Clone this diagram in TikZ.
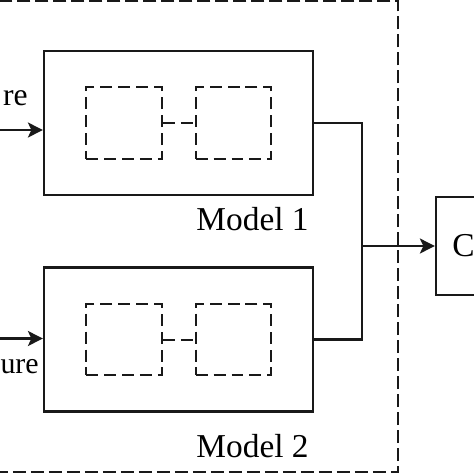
\documentclass[tikz,border=0pt]{standalone}
\usepackage{fontspec}
\setmainfont{Liberation Serif}
\usetikzlibrary{arrows.meta,positioning}
\tikzset{>={Stealth[length=3mm,width=3mm,inset=0.7mm]}}
\tikzset{
  modelbox/.style={draw=black!90,line width=0.045cm,minimum width=5.38cm,minimum height=2.88cm,inner sep=0pt},
  subbox/.style={draw=black!90,line width=0.04cm,dash pattern=on 0.24cm off 0.12cm,minimum width=1.52cm,minimum height=1.44cm,inner sep=0pt},
  wire/.style={draw=black!90,line width=0.045cm},
  lbl/.style={font=\fontsize{19}{21}\selectfont,inner sep=0pt}
}

\begin{document}
\begin{tikzpicture}[x=0.02cm,y=-0.02cm]
\useasboundingbox (0,0) rectangle (474,474);
\clip (0,0) rectangle (474,474);
\def\xmod {178.5} % x-center of the model boxes
\def\ymodA {123}  % y-center of model 1
\def\ymodB {339.5}% y-center of model 2
\def\xjoin {362}  % x of the joining wire
% outer dashed frame:
 \draw[draw=black!90,line width=0.045cm,dash pattern=on 0.26cm off 0.1cm] (-20,1) rectangle (398,472);
% models:
 \node[modelbox] (modA) at (\xmod,\ymodA) {};
 \node[modelbox] (modB) at (\xmod,\ymodB) {};
 \node[subbox] (subAl) at (124,\ymodA) {};
 \node[subbox] (subAr) at (233.5,\ymodA) {};
 \node[subbox] (subBl) at (124,\ymodB) {};
 \node[subbox] (subBr) at (233.5,\ymodB) {};
 \draw[wire,line width=0.04cm,dash pattern=on 0.24cm off 0.12cm] (subAl.east) -- (subAr.west);
 \draw[wire,line width=0.04cm,dash pattern=on 0.24cm off 0.12cm] (subBl.east) -- (subBr.west);
 \node[lbl,anchor=base east] (labA) at (309,230) {Model 1};
 \node[lbl,anchor=base east] (labB) at (309,457) {Model 2};
% inputs:
 \coordinate (inA) at (0,\ymodA+7);
 \coordinate (inB) at (0,\ymodB-1);
 \draw[wire,->] (inA) -- (inA -| modA.west);
 \draw[wire,->] (inB) -- (inB -| modB.west);
 \node[lbl,font=\fontsize{18}{20}\selectfont,anchor=base east] (txtA) at (28,105) {re};
 \node[lbl,font=\fontsize{17}{19}\selectfont,anchor=base east] (txtB) at (39,373) {ure};
% output:
 \node[draw=black!90,line width=0.045cm,minimum width=1.8cm,minimum height=1.96cm,inner sep=0pt] (cls) at (481,246) {};
 \node[lbl,anchor=base west] (clsTxt) at (452,256) {C};
 \coordinate (join) at (\xjoin,246);
 \draw[wire] (modA.east) -| (join);
 \draw[wire] (modB.east) -| (join);
 \draw[wire,->] (join) -- (cls.west);
\end{tikzpicture}
\end{document}
